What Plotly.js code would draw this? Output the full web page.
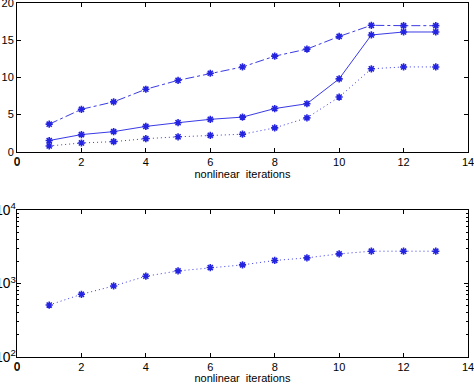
<!DOCTYPE html>
<html><head><meta charset="utf-8">
<script src="https://cdn.plot.ly/plotly-3.0.1.min.js"></script>
<style>html,body{margin:0;padding:0;background:#fff}#chart{width:474px;height:384px}</style>
</head><body><div id="chart"></div>
<script>
var iterations = [1,2,3,4,5,6,7,8,9,10,11,12,13];
var seriesDashDot = [3.7,5.7,6.7,8.4,9.6,10.55,11.4,12.85,13.8,15.5,17.0,16.95,16.95];
var seriesSolid = [1.5,2.3,2.7,3.4,3.9,4.35,4.65,5.8,6.45,9.8,15.7,16.1,16.1];
var seriesDotted = [0.77,1.17,1.35,1.75,2.0,2.2,2.35,3.2,4.55,7.35,11.15,11.4,11.4];
var seriesLog = [510,714,927,1258,1486,1652,1795,2061,2237,2535,2756,2756,2756];
var xTitle = 'nonlinear  iterations';
var xStartLabel = '0';

var blue = '#2424e0';
function tr(y, dash, xa, ya){
  return {x: iterations, y: y, xaxis: xa, yaxis: ya, mode:'lines+markers',
    line:{color: '#3a3ae6', width:1, dash: dash},
    marker:{symbol:'asterisk-open', size:6, color: blue, line:{color: blue, width:1.6}},
    showlegend:false};
}
var data = [
  tr(seriesDashDot,'dashdot','x','y'),
  tr(seriesSolid,'solid','x','y'),
  tr(seriesDotted,'1px,3px','x','y'),
  tr(seriesLog,'1px,3px','x2','y2')
];
var font = {family:'Liberation Sans, Arial, sans-serif', size:11, color:'#000'};
var topDomain = [0.58,1], botDomain = [0,0.415];
var axCommon = {showline:true, linecolor:'#000', linewidth:1, mirror:'ticks', ticks:'inside', ticklen:4, tickcolor:'#000', showgrid:false, zeroline:false, automargin:false, tickfont:font, ticklabeloverflow:'allow'};
function startLabel(xa, yPaper){
  return {text: xStartLabel, xref: xa, yref: 'paper', x: 0, y: yPaper, xanchor:'center', yanchor:'top',
    yshift:-2, showarrow:false, font:font, borderpad:0};
}
var layout = {
  width:474, height:384, margin:{l:17, r:6, t:3, b:27},
  paper_bgcolor:'#fff', plot_bgcolor:'#fff', font:font,
  xaxis: Object.assign({}, axCommon, {domain:[0,1], anchor:'y', range:[0,14], dtick:2, tick0:0,
    title:{text:xTitle, font:font, standoff:2}}),
  yaxis: Object.assign({}, axCommon, {domain:topDomain, anchor:'x', range:[0,20], dtick:5, tick0:0}),
  xaxis2: Object.assign({}, axCommon, {domain:[0,1], anchor:'y2', range:[0,14], dtick:2, tick0:0,
    title:{text:xTitle, font:font, standoff:2}}),
  yaxis2: Object.assign({}, axCommon, {domain:botDomain, anchor:'x2', type:'log', range:[2,4], dtick:1, exponentformat:'power', ticklabelstandoff:-2,
    minor:{ticks:'inside', ticklen:2, tickcolor:'#000', showgrid:false}}),
  annotations: [startLabel('x', topDomain[0]), startLabel('x2', botDomain[0])]
};
Plotly.newPlot('chart', data, layout, {staticPlot:true, displayModeBar:false});
</script></body></html>
